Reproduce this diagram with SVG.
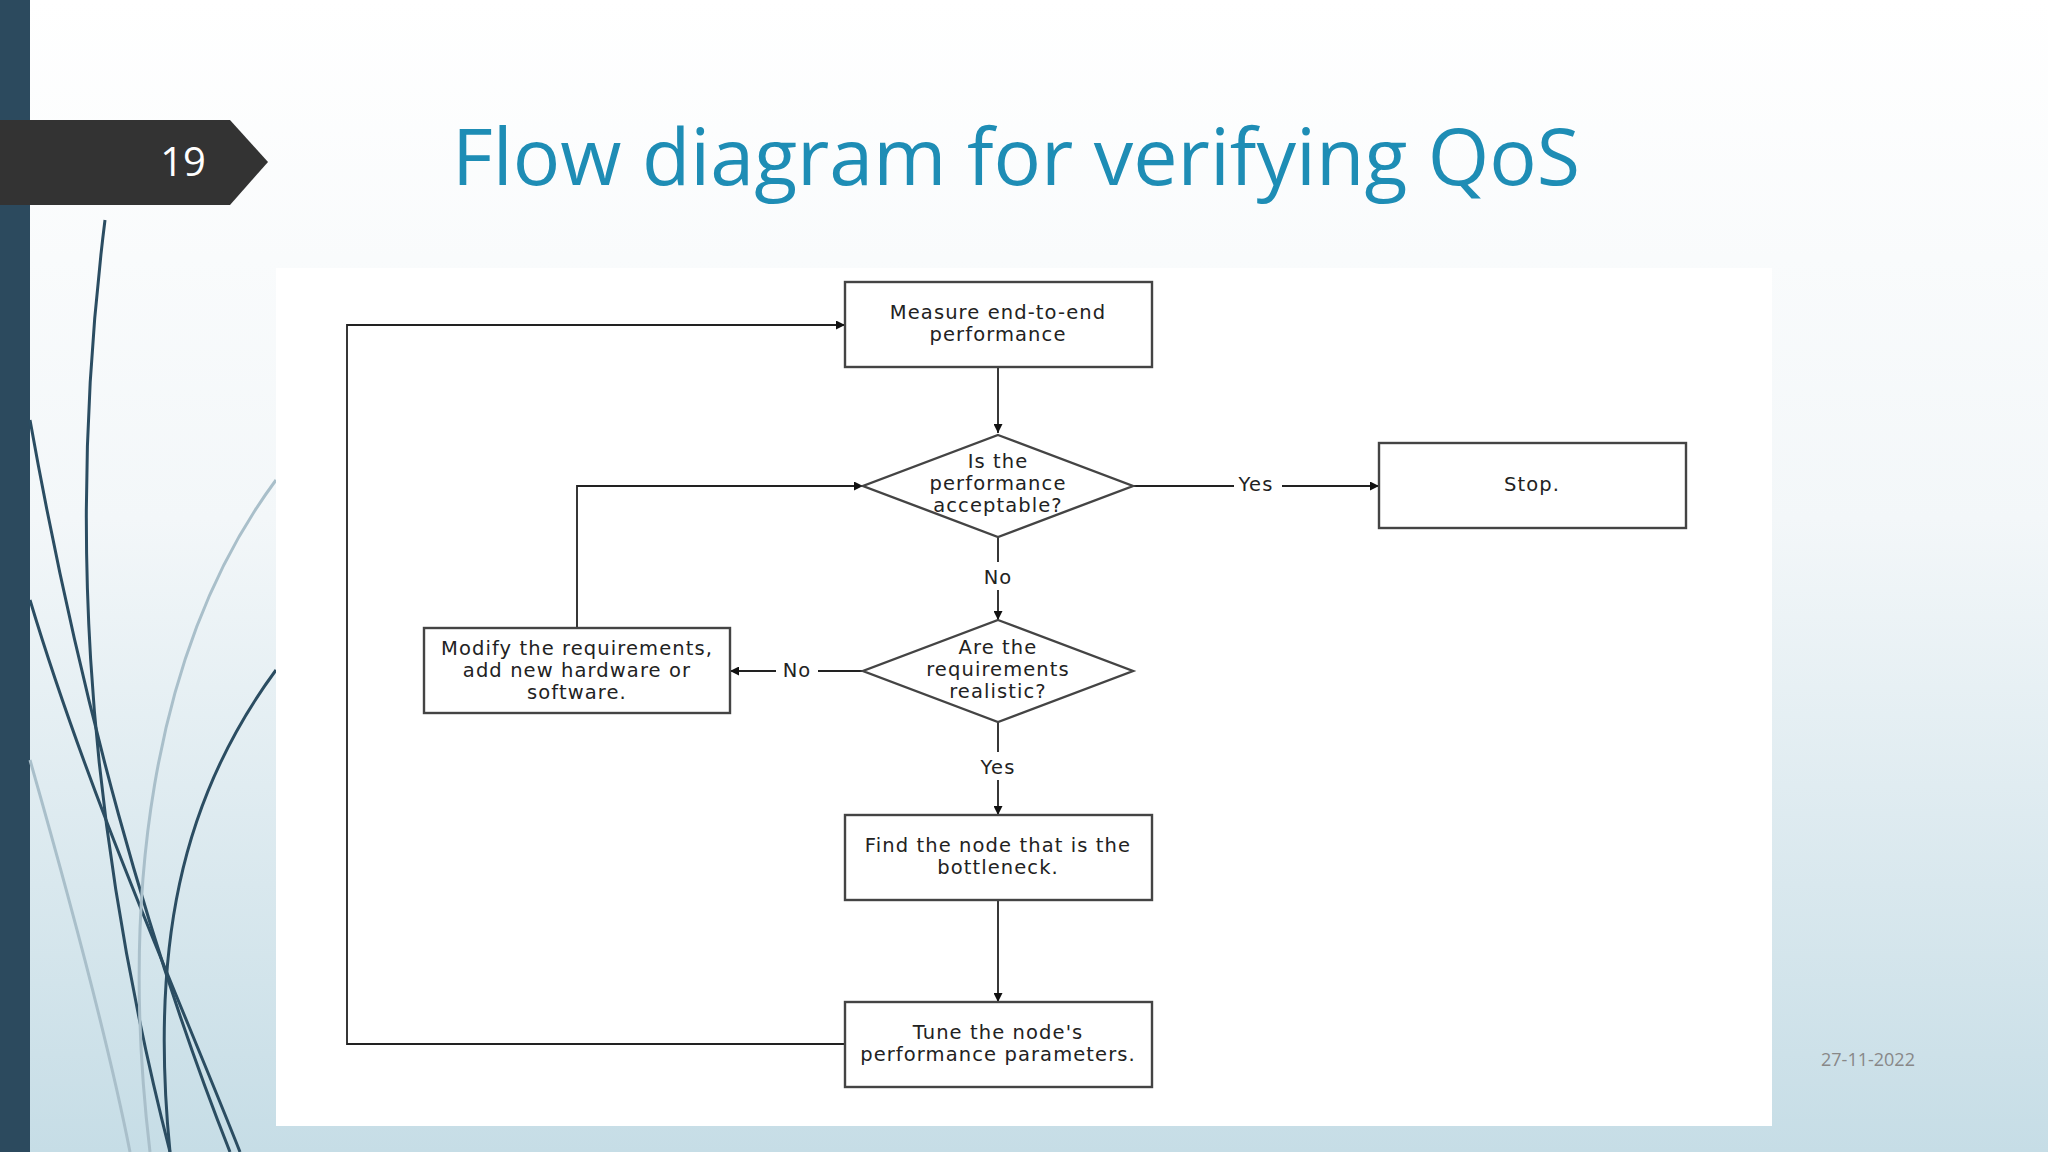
<svg xmlns="http://www.w3.org/2000/svg" width="2048" height="1152" viewBox="0 0 2048 1152">
<defs>
<linearGradient id="bg" x1="0" y1="0" x2="0" y2="1"><stop offset="0" stop-color="#ffffff"/><stop offset="0.45" stop-color="#f3f7f9"/><stop offset="1" stop-color="#c6dde6"/></linearGradient>
<marker id="ah" viewBox="0 0 10 10" refX="10" refY="5" markerWidth="9" markerHeight="9" orient="auto" markerUnits="userSpaceOnUse" ><path d="M0,0 L10,5 L0,10 z" fill="#111"/></marker>
<style>
.n{fill:#fff;stroke:#444;stroke-width:2.4}
.t{font-family:"DejaVu Sans","Liberation Sans",sans-serif;font-size:19.5px;letter-spacing:1.1px;fill:#222;text-anchor:middle}
.c{fill:none;stroke:#222;stroke-width:1.8}
.deco{fill:none;stroke:#2b4d62;stroke-width:3}
.deco2{fill:none;stroke:#a9bfca;stroke-width:3}
</style>
</defs>
<rect width="2048" height="1152" fill="url(#bg)"/>
<rect x="0" y="0" width="30" height="1152" fill="#2c4a5e"/>
<path class="deco" d="M105,220 C70,500 80,800 170,1152"/>
<path class="deco" d="M30,420 C80,700 150,950 230,1152"/>
<path class="deco" d="M30,600 C90,800 180,1000 240,1152"/>
<path class="deco" d="M276,670 C180,800 150,950 170,1152"/>
<path class="deco2" d="M276,480 C150,650 120,900 150,1152"/>
<path class="deco2" d="M30,760 C70,900 110,1050 130,1152"/>
<path d="M0,120 L230,120 L268,162 L230,205 L0,205 Z" fill="#333"/>
<text x="183" y="176" font-family="Open Sans,Liberation Sans,sans-serif" font-size="40" fill="#fff" text-anchor="middle">19</text>
<text x="452" y="185" font-family="Open Sans,Liberation Sans,sans-serif" font-size="79" fill="#1e8db5">Flow diagram for verifying QoS</text>
<text x="1868" y="1066" font-family="Open Sans,Liberation Sans,sans-serif" font-size="18" fill="#888" text-anchor="middle">27-11-2022</text>
<rect x="276" y="268" width="1496" height="858" fill="#fff"/>
<g id="connectors">
<path class="c" d="M998,367 V433" marker-end="url(#ah)"/>
<path class="c" d="M1133,486 H1234 M1282,486 H1379" marker-end="url(#ah)"/>
<path class="c" d="M998,537 V562 M998,590 V620" marker-end="url(#ah)"/>
<path class="c" d="M863,671 H818 M776,671 H730" marker-end="url(#ah)"/>
<path class="c" d="M577,628 V486 H863" marker-end="url(#ah)"/>
<path class="c" d="M998,722 V752 M998,780 V815" marker-end="url(#ah)"/>
<path class="c" d="M998,900 V1002" marker-end="url(#ah)"/>
<path class="c" d="M845,1044 H347 V325 H845" marker-end="url(#ah)"/>
<text class="t" x="1256" y="491">Yes</text>
<text class="t" x="998" y="584">No</text>
<text class="t" x="797" y="677">No</text>
<text class="t" x="998" y="774">Yes</text>
</g>
<g id="measure"><rect class="n" x="845" y="282" width="307" height="85"/><text class="t" x="998" y="319">Measure end-to-end</text><text class="t" x="998" y="341">performance</text></g>
<g id="d1"><polygon class="n" points="998,435 1133,486 998,537 863,486"/><text class="t" x="998" y="468">Is the</text><text class="t" x="998" y="490">performance</text><text class="t" x="998" y="512">acceptable?</text></g>
<g id="stop"><rect class="n" x="1379" y="443" width="307" height="85"/><text class="t" x="1532" y="491">Stop.</text></g>
<g id="d2"><polygon class="n" points="998,620 1133,671 998,722 863,671"/><text class="t" x="998" y="654">Are the</text><text class="t" x="998" y="676">requirements</text><text class="t" x="998" y="698">realistic?</text></g>
<g id="modify"><rect class="n" x="424" y="628" width="306" height="85"/><text class="t" x="577" y="655">Modify the requirements,</text><text class="t" x="577" y="677">add new hardware or</text><text class="t" x="577" y="699">software.</text></g>
<g id="find"><rect class="n" x="845" y="815" width="307" height="85"/><text class="t" x="998" y="852">Find the node that is the</text><text class="t" x="998" y="874">bottleneck.</text></g>
<g id="tune"><rect class="n" x="845" y="1002" width="307" height="85"/><text class="t" x="998" y="1039">Tune the node's</text><text class="t" x="998" y="1061">performance parameters.</text></g>
</svg>
